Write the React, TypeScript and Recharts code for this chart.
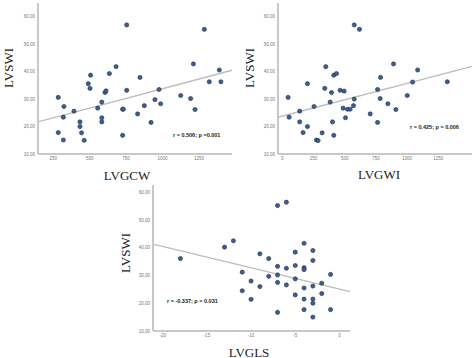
import React from "react";
import { ScatterChart, Scatter, XAxis, YAxis, ReferenceLine } from "recharts";

// LVGCW vs LVSWI
const gcwX = [284, 323, 319, 284, 319, 392, 433, 433, 444, 462, 490, 506, 502, 555, 583, 583, 583, 605, 612, 635, 681, 754, 726, 731, 754, 726, 829, 845, 875, 921, 948, 976, 987, 1125, 1193, 1212, 1223, 1287, 1321, 1390, 1401];
const gcwY = [30.6, 27.3, 23.4, 17.8, 15.1, 25.6, 21.7, 20.0, 17.7, 15.0, 35.6, 38.7, 33.9, 26.7, 28.9, 23.2, 21.7, 32.4, 33.0, 39.3, 41.8, 57.0, 26.3, 26.3, 33.2, 16.8, 24.6, 37.9, 27.6, 21.5, 29.8, 33.5, 28.3, 31.3, 30.2, 42.8, 26.2, 55.4, 36.3, 40.6, 36.3];
const gcwFit = [{ x: 145, y: 21.7 }, { x: 1477, y: 40.5 }];
const gcwTicks = [250, 500, 750, 1000, 1250];

// LVGWI vs LVSWI
const gwiX = [46, 54, 139, 139, 166, 201, 201, 254, 273, 286, 319, 340, 348, 383, 394, 402, 412, 412, 434, 463, 487, 495, 506, 522, 543, 570, 576, 576, 618, 704, 763, 763, 787, 784, 846, 891, 910, 1001, 1044, 1084, 1322];
const gwiY = [30.6, 23.4, 25.6, 21.7, 17.8, 35.6, 20.0, 27.3, 15.1, 14.9, 17.7, 33.9, 41.8, 28.9, 32.4, 21.7, 38.7, 16.8, 39.3, 33.2, 26.7, 32.9, 23.2, 26.3, 26.3, 27.6, 57.0, 30.0, 55.4, 24.6, 21.5, 33.5, 37.9, 30.2, 28.3, 42.8, 26.2, 31.3, 36.2, 40.6, 36.3];
const gwiFit = [{ x: -35, y: 23.4 }, { x: 1520, y: 41.9 }];
const gwiTicks = [0, 250, 500, 750, 1000, 1250];

// LVGLS vs LVSWI
const glsX = [-18, -13, -12, -11, -11, -10, -10, -9, -9, -8, -8, -7, -7, -7, -7, -7, -6, -6, -6, -5, -5, -5, -5, -4, -4, -4, -4, -4, -4, -3, -3, -3, -3, -3, -3, -2, -2, -1, -1];
const glsY = [36.1, 40.2, 42.5, 31.2, 24.5, 28.0, 21.4, 37.8, 26.0, 36.1, 29.7, 55.2, 33.3, 30.2, 27.5, 16.7, 56.4, 32.6, 26.6, 38.4, 33.6, 28.8, 23.0, 41.6, 32.8, 32.1, 25.5, 21.5, 17.7, 39.0, 35.4, 26.2, 21.5, 20.0, 15.0, 27.2, 23.5, 30.4, 17.7];
const glsFit = [{ x: -21.1, y: 41.3 }, { x: 1.2, y: 24.2 }];
const glsTicks = [-20, -15, -10, -5, 0];

const yTicks = [10, 20, 30, 40, 50, 60];

const axisColor = "#c8c8c8";
const tickStyle = { fontSize: 4.5, fill: "#777", fontFamily: "Liberation Sans, Arial, sans-serif" };

const toPoints = (xs: number[], ys: number[]) => xs.map((x, i) => ({ x, y: ys[i] }));

const Dot = (props: any) => (
  <circle cx={props.cx} cy={props.cy} r={2.1} fill="#3d5f92" stroke="#1e2f4c" strokeWidth={0.6} />
);

interface PanelProps {
  left: number;
  top: number;
  width: number;
  height: number;
  margin: { top: number; right: number; bottom: number; left: number };
  xDomain: number[];
  yDomain: number[];
  xTicks: number[];
  data: { x: number; y: number }[];
  fit: { x: number; y: number }[];
}

function Panel({ left, top, width, height, margin, xDomain, yDomain, xTicks, data, fit }: PanelProps) {
  return (
    <div style={{ position: "absolute", left, top }}>
      <ScatterChart width={width} height={height} margin={margin}>
        <XAxis
          type="number"
          dataKey="x"
          domain={xDomain}
          ticks={xTicks}
          allowDataOverflow
          height={12}
          tickSize={0}
          tickMargin={3}
          tick={tickStyle}
          stroke={axisColor}
          strokeWidth={2}
        />
        <YAxis
          type="number"
          dataKey="y"
          domain={yDomain}
          ticks={yTicks}
          allowDataOverflow
          width={30}
          tickSize={0}
          tickMargin={3}
          tick={tickStyle}
          tickFormatter={(v: number) => v.toFixed(2).replace(".", ",")}
          stroke={axisColor}
          strokeWidth={2}
        />
        <ReferenceLine segment={fit} stroke="#bdbdbd" strokeWidth={1.4} ifOverflow="visible" />
        <Scatter data={data} shape={Dot} isAnimationActive={false} />
      </ScatterChart>
    </div>
  );
}

const titleStyle: React.CSSProperties = {
  position: "absolute",
  fontFamily: "Liberation Serif, Times New Roman, serif",
  fontSize: 13,
  color: "#222",
  whiteSpace: "nowrap",
  lineHeight: 1,
};

const noteStyle: React.CSSProperties = {
  position: "absolute",
  fontFamily: "Liberation Sans, Arial, sans-serif",
  fontSize: 5.5,
  fontWeight: "bold",
  color: "#222",
  whiteSpace: "nowrap",
  lineHeight: 1,
  transform: "translateY(-50%)",
};

function XTitle({ x, y, text }: { x: number; y: number; text: string }) {
  return <div style={{ ...titleStyle, left: x, top: y, transform: "translate(-50%, -50%)" }}>{text}</div>;
}

function YTitle({ x, y, text }: { x: number; y: number; text: string }) {
  return (
    <div style={{ ...titleStyle, left: x, top: y, transform: "translate(-50%, -50%) rotate(-90deg)" }}>{text}</div>
  );
}

export default function App() {
  return (
    <div style={{ position: "absolute", left: 0, top: 0, width: 474, height: 358, background: "#fff", overflow: "hidden" }}>
      <Panel
        left={0}
        top={0}
        width={240}
        height={180}
        margin={{ top: 3, right: 8, bottom: 14, left: 8 }}
        xDomain={[145, 1477]}
        yDomain={[10, 65]}
        xTicks={gcwTicks}
        data={toPoints(gcwX, gcwY)}
        fit={gcwFit}
      />
      <Panel
        left={240}
        top={0}
        width={234}
        height={180}
        margin={{ top: 3, right: 2, bottom: 14, left: 8 }}
        xDomain={[-35, 1520]}
        yDomain={[10, 65]}
        xTicks={gwiTicks}
        data={toPoints(gwiX, gwiY)}
        fit={gwiFit}
      />
      <Panel
        left={110}
        top={180}
        width={260}
        height={178}
        margin={{ top: 5, right: 20, bottom: 15, left: 13 }}
        xDomain={[-21.1, 1.2]}
        yDomain={[10, 62.6]}
        xTicks={glsTicks}
        data={toPoints(glsX, glsY)}
        fit={glsFit}
      />

      <YTitle x={8} y={68} text="LVSWI" />
      <XTitle x={127} y={175} text="LVGCW" />
      <div style={{ ...noteStyle, left: 173, top: 136 }}>r = 0.506; p =0.001</div>

      <YTitle x={249} y={68} text="LVSWI" />
      <XTitle x={379} y={174} text="LVGWI" />
      <div style={{ ...noteStyle, left: 410, top: 128 }}>r = 0.425; p = 0.006</div>

      <YTitle x={125} y={253} text="LVSWI" />
      <XTitle x={249} y={352} text="LVGLS" />
      <div style={{ ...noteStyle, left: 167, top: 302 }}>r = -0.337; p = 0.031</div>
    </div>
  );
}
